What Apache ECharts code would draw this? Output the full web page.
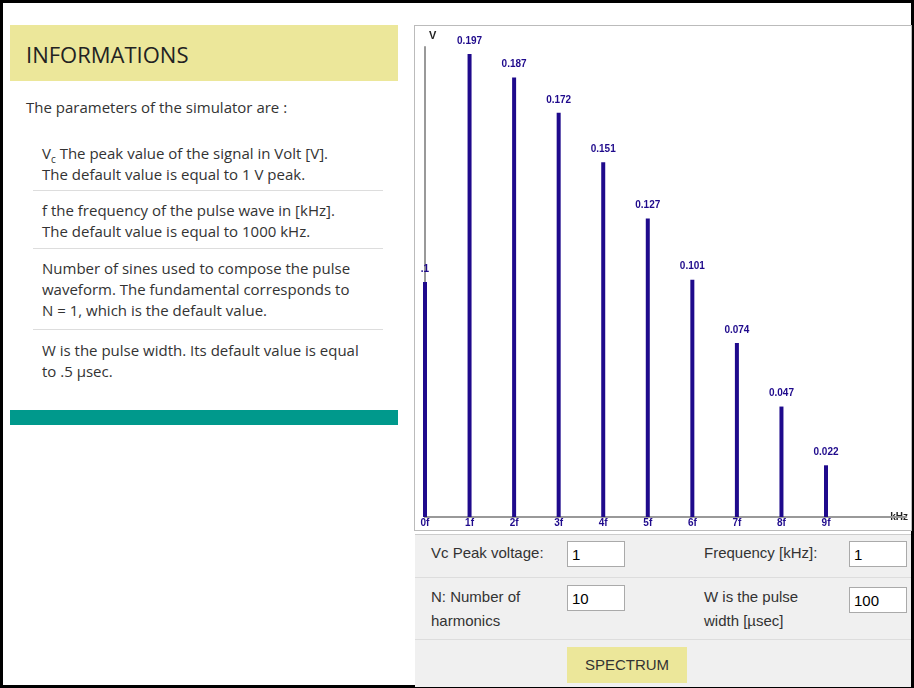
<!DOCTYPE html>
<html>
<head>
<meta charset="utf-8">
<script src="https://cdn.jsdelivr.net/npm/echarts@6/dist/echarts.min.js"></script>
<style>
  body { margin: 0; width: 914px; height: 688px; overflow: hidden; font-family: "Open Sans", "DejaVu Sans", sans-serif; }
  #frame { position: absolute; left: 0; top: 0; width: 908px; height: 682px; border: 3px solid #000; background: #fff; }
  #head { position: absolute; left: 7px; top: 22px; width: 388px; height: 56px; background: #ece79a; }
  #head span { position: absolute; left: 16px; top: 14px; font-size: 22px; color: #222; }
  .t { position: absolute; font-size: 15px; color: #333; line-height: 21px; }
  .t sub { font-size: 10px; line-height: 0; }
  .sep { position: absolute; left: 30px; width: 350px; border-top: 1px solid #ddd; }
  #teal { position: absolute; left: 7px; top: 407px; width: 388px; height: 15px; background: #00998c; }
  #chart { position: absolute; left: 411px; top: 22px; width: 496px; height: 504px; border: 1px solid #bbb; }
  #form { position: absolute; left: 412px; top: 531px; width: 496px; height: 152px; background: #f0f0f0; border-top: 1px solid #ccc; font-family: "Liberation Sans", Arial, sans-serif; font-size: 15px; color: #333; }
  #form .l { position: absolute; line-height: 24px; }
  #form input { position: absolute; width: 48px; height: 24px; border: 1px solid #aaa; font-size: 15px; padding: 0 4px; font-family: inherit; box-sizing: content-box; }
  #btn { position: absolute; left: 152px; top: 112px; width: 120px; height: 36px; background: #ece79a; text-align: center; line-height: 36px; }
</style>
</head>
<body>
<div id="frame">
  <div id="head"><span>INFORMATIONS</span></div>
  <div class="t" style="left:23px;top:94px">The parameters of the simulator are :</div>
  <div class="t" style="left:39px;top:140px">V<sub>c</sub> The peak value of the signal in Volt [V].<br>The default value is equal to 1 V peak.</div>
  <div class="sep" style="top:187px"></div>
  <div class="t" style="left:39px;top:197px">f the frequency of the pulse wave in [kHz].<br>The default value is equal to 1000 kHz.</div>
  <div class="sep" style="top:245px"></div>
  <div class="t" style="left:39px;top:255px">Number of sines used to compose the pulse<br>waveform. The fundamental corresponds to<br>N = 1, which is the default value.</div>
  <div class="sep" style="top:326px"></div>
  <div class="t" style="left:39px;top:337px">W is the pulse width. Its default value is equal<br>to .5 µsec.</div>
  <div id="teal"></div>
  <div id="chart"></div>
  <div id="form">
    <div class="l" style="left:16px;top:6px">Vc Peak voltage:</div>
    <input style="left:152px;top:6px" value="1">
    <div class="l" style="left:289px;top:6px">Frequency [kHz]:</div>
    <input style="left:434px;top:6px" value="1">
    <div style="position:absolute;left:0;top:42px;width:496px;border-top:1px solid #ddd"></div>
    <div class="l" style="left:16px;top:50px">N: Number of<br>harmonics</div>
    <input style="left:152px;top:50px" value="10">
    <div class="l" style="left:289px;top:50px">W is the pulse<br>width [µsec]</div>
    <input style="left:434px;top:52px" value="100">
    <div style="position:absolute;left:0;top:104px;width:496px;border-top:1px solid #ddd"></div>
    <div id="btn">SPECTRUM</div>
  </div>
</div>
<script>
const harmonics = [0, 1, 2, 3, 4, 5, 6, 7, 8, 9];
const amplitudes = [0.1, 0.197, 0.187, 0.172, 0.151, 0.127, 0.101, 0.074, 0.047, 0.022];
const amplitudeLabels = ['.1', '0.197', '0.187', '0.172', '0.151', '0.127', '0.101', '0.074', '0.047', '0.022'];

const chart = echarts.init(document.getElementById('chart'));
const blue = '#1f0a8c';
chart.setOption({
    animation: false,
    grid: { left: 10, right: 4, top: 21, bottom: 13 },
    xAxis: {
        type: 'value', min: 0, max: 10.8, interval: 1,
        name: 'kHz', nameGap: -16, nameTextStyle: { color: '#222', fontWeight: 'bold', fontSize: 10, padding: [0, 0, 16, 0] },
        axisLine: { lineStyle: { color: '#999', width: 2 } },
        axisTick: { show: false }, splitLine: { show: false },
        axisLabel: {
            margin: 1, color: blue, fontSize: 10, fontWeight: 'bold',
            formatter: v => v <= 9 ? v + 'f' : ''
        }
    },
    yAxis: {
        type: 'value', min: 0, max: 0.2,
        name: 'V', nameLocation: 'end', nameGap: 6,
        nameTextStyle: { color: '#222', fontWeight: 'bold', fontSize: 11, align: 'left', padding: [0, 0, 0, 4] },
        axisLine: { show: true, lineStyle: { color: '#999', width: 2 } },
        axisTick: { show: false }, axisLabel: { show: false }, splitLine: { show: false }
    },
    series: [{
        type: 'bar',
        barWidth: 4,
        itemStyle: { color: blue },
        data: harmonics.map((h, i) => [h, amplitudes[i]]),
        label: {
            show: true, position: 'top', distance: 8,
            color: blue, fontSize: 10, fontWeight: 'bold',
            formatter: p => amplitudeLabels[p.dataIndex]
        }
    }]
});
</script>
</body>
</html>
